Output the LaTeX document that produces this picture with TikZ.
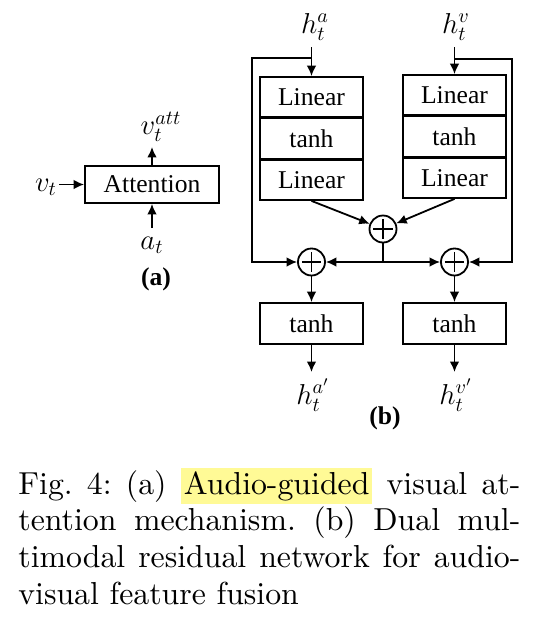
\documentclass[tikz,border=0pt]{standalone}
\usepackage{amssymb,amsmath}
\usepackage{fontspec}
\usepackage{tikz}
\usetikzlibrary{%
  arrows.meta,%
  calc%
}
\tikzset{>={Latex[length=5.2pt,width=4.8pt]}}
\newfontfamily\tnr{Liberation Serif}
\newfontfamily\capfont{lmroman10-regular}[Extension=.otf]
\definecolor{hilite}{RGB}{255,250,150}

\tikzset{
  blk/.style={draw, line width=0.9pt, minimum width=51.5pt, minimum height=20pt,
    inner sep=0pt, font=\tnr\fontsize{12.8}{14}\selectfont},
  sumnode/.style={draw, circle, line width=0.9pt, minimum size=13.5pt, inner sep=0pt,
    path picture={
      \draw[line width=0.6pt] ([xshift=-4.8pt]path picture bounding box.center)
        -- ([xshift=4.8pt]path picture bounding box.center);
      \draw[line width=0.6pt] ([yshift=-4.8pt]path picture bounding box.center)
        -- ([yshift=4.8pt]path picture bounding box.center);}},
  lbl/.style={font=\fontsize{14.5}{16}\selectfont, inner sep=1pt},
  tag/.style={font=\tnr\bfseries\fontsize{12.8}{14}\selectfont, inner sep=1pt},
  conn/.style={->, line width=0.9pt}
}

\begin{document}
\begin{tikzpicture}[x=0.5pt,y=-0.5pt]
    \useasboundingbox (0,0) rectangle (552,633);

    % (a) attention
    \node[blk, minimum width=67pt, minimum height=18.5pt] (att) at (152,184.5) {Attention};
    \coordinate (vatt-out) at (152,147);
    \coordinate (at-in) at (152,228);
    \node[lbl] (vatt) at (161,127) {$v_t^{att}$};
    \node[lbl] (vt) at (46,187) {$v_t$};
    \node[lbl] (at) at (152,245) {$a_t$};
    \draw[conn] (att.north) -- (vatt-out);
    \draw[conn] (vt.east |- att) -- (att);
    \draw[conn] (at-in) -- (att);
    \node[tag] (capa) at (156,279) {(a)};

    % (b) audio branch
    \node[blk] (lin1a) at (311.5,97) {Linear};
    \node[blk] (tanha) at (311.5,138.5) {tanh};
    \node[blk] (lin2a) at (311.5,180) {Linear};
    % (b) visual branch
    \node[blk] (lin1v) at (454.5,95) {Linear};
    \node[blk] (tanhv) at (454.5,136.5) {tanh};
    \node[blk] (lin2v) at (454.5,178) {Linear};

    \node[sumnode] (sumc) at (383,229) {};
    \node[sumnode] (suma) at (311.5,262) {};
    \node[sumnode] (sumv) at (454.5,262) {};

    \node[blk, minimum height=20.5pt] (tha) at (311.5,323.5) {tanh};
    \node[blk, minimum height=20.5pt] (thv) at (454.5,323.5) {tanh};

    \coordinate (ha-in) at (311.5,47);
    \coordinate (ha-tap) at (311.5,58);
    \coordinate (loopa) at (252,262);
    \coordinate (hv-in) at (454.5,47);
    \coordinate (hv-tap) at (454.5,59);
    \coordinate (loopv) at (512,262);
    \coordinate (jn) at (sumc |- suma);
    \coordinate (outa) at (311.5,372);
    \coordinate (outv) at (454.5,372);

    \node[lbl] (ha) at (315,27) {$h_t^a$};
    \node[lbl] (hv) at (456,27) {$h_t^v$};
    \node[lbl] (hao) at (313,395) {$h_t^{a'}$};
    \node[lbl] (hvo) at (456,395) {$h_t^{v'}$};

    \draw[conn] (ha-in) -- (lin1a);
    \draw[conn] (hv-in) -- (lin1v);
    \draw[conn] (ha-tap) -| (loopa) -- (suma);
    \draw[conn] (hv-tap) -| (loopv) -- (sumv);
    \draw[conn] (lin2a.south) -- (sumc);
    \draw[conn] (lin2v.south) -- (sumc);
    \draw[line width=0.9pt] (sumc) -- (jn);
    \draw[conn] (jn) -- (suma);
    \draw[conn] (jn) -- (sumv);
    \draw[conn] (suma) -- (tha);
    \draw[conn] (sumv) -- (thv);
    \draw[conn] (tha) -- (outa);
    \draw[conn] (thv) -- (outv);
    \node[tag] (capb) at (385,418) {(b)};

    % caption
    \node[anchor=north west, inner sep=0pt, text width=251pt, align=justify,
      font=\capfont\fontsize{15.9}{18.4}\selectfont] (caption) at (18,468)
      {\frenchspacing\hyphenpenalty=10000\tolerance=10000\fboxsep=1.5pt%
       Fig.~4: (a) \colorbox{hilite}{Audio-guided} visual at-\linebreak
       tention mechanism. (b) Dual mul-\linebreak
       timodal residual network for audio-\linebreak
       visual feature fusion};
  \end{tikzpicture}
\end{document}
